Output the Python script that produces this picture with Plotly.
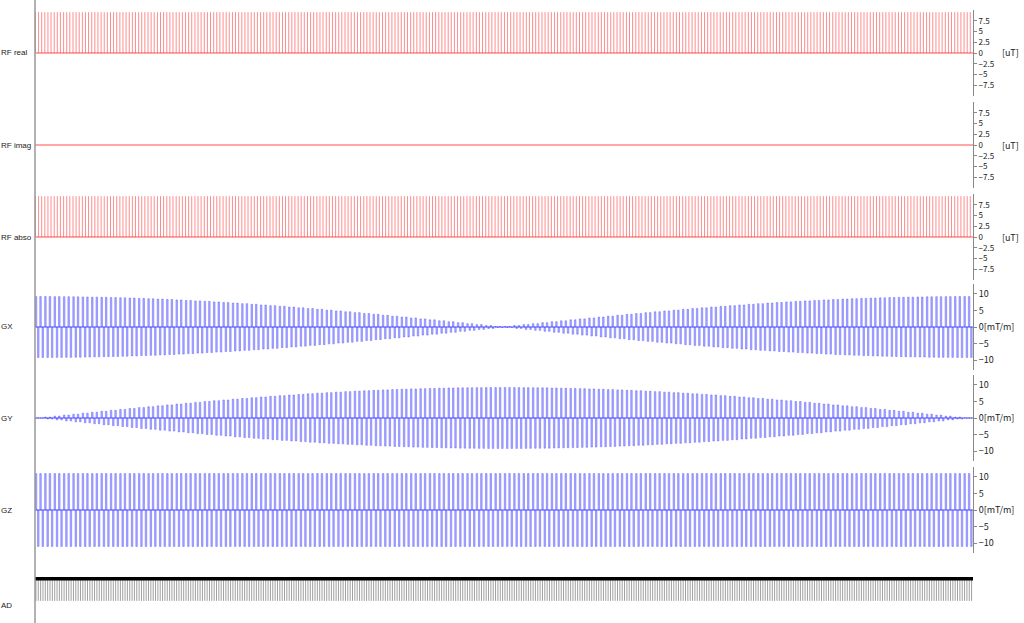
import plotly.graph_objects as go

# per-TR values (100 TRs)
rf_amp = 9.5
gz_amp = 11.0
gx_amp = [9.20, 9.20, 9.18, 9.16, 9.13, 9.08, 9.03, 8.97, 8.91, 8.83,
          8.74, 8.65, 8.54, 8.43, 8.31, 8.18, 8.04, 7.89, 7.74, 7.58,
          7.41, 7.23, 7.05, 6.86, 6.66, 6.45, 6.24, 6.02, 5.80, 5.57,
          5.34, 5.10, 4.85, 4.60, 4.34, 4.08, 3.82, 3.55, 3.28, 3.01,
          2.73, 2.45, 2.17, 1.88, 1.60, 1.31, 1.02, 0.73, 0.44, 0.15,
          0.15, 0.44, 0.73, 1.02, 1.31, 1.60, 1.88, 2.17, 2.45, 2.73,
          3.01, 3.28, 3.55, 3.82, 4.08, 4.34, 4.60, 4.85, 5.10, 5.34,
          5.57, 5.80, 6.02, 6.24, 6.45, 6.66, 6.86, 7.05, 7.23, 7.41,
          7.58, 7.74, 7.89, 8.04, 8.18, 8.31, 8.43, 8.54, 8.65, 8.74,
          8.83, 8.91, 8.97, 9.03, 9.08, 9.13, 9.16, 9.18, 9.20, 9.20]
gy_amp = [0.00, 0.29, 0.58, 0.88, 1.17, 1.46, 1.74, 2.03, 2.31, 2.59,
          2.87, 3.14, 3.41, 3.68, 3.95, 4.21, 4.47, 4.72, 4.97, 5.22,
          5.45, 5.69, 5.91, 6.13, 6.35, 6.56, 6.76, 6.95, 7.14, 7.32,
          7.50, 7.66, 7.82, 7.97, 8.11, 8.24, 8.37, 8.48, 8.59, 8.69,
          8.79, 8.87, 8.94, 9.01, 9.06, 9.11, 9.14, 9.17, 9.19, 9.20,
          9.20, 9.19, 9.17, 9.14, 9.11, 9.06, 9.01, 8.94, 8.87, 8.79,
          8.69, 8.59, 8.48, 8.37, 8.24, 8.11, 7.97, 7.82, 7.66, 7.50,
          7.32, 7.14, 6.95, 6.76, 6.56, 6.35, 6.13, 5.91, 5.69, 5.45,
          5.22, 4.97, 4.72, 4.47, 4.21, 3.95, 3.68, 3.41, 3.14, 2.87,
          2.59, 2.31, 2.03, 1.74, 1.46, 1.17, 0.88, 0.58, 0.29, 0.00]
n_tr = len(gx_amp)

row_labels = ["RF real", "RF imag", "RF abso", "GX", "GY", "GZ", "AD"]
row_px = [(10, 96), (102, 188), (194, 280), (284, 370), (375, 461), (467, 553), (572, 612)]
H = 623

fig = go.Figure()
layout = dict(width=1024, height=H, autosize=False, margin=dict(l=35, r=51, t=0, b=0),
              plot_bgcolor="white", paper_bgcolor="white", showlegend=False,
              font=dict(family="Noto Sans CJK JP, Noto Sans", size=9, color="#222"))

def spikes(height):
    xs, ys = [], []
    for i in range(n_tr):
        for dx in (0.05, 0.38, 0.71):
            xs += [i + dx, i + dx, None]
            ys += [0, height, None]
    return xs, ys

def lobes(amps):
    xs, ys = [], []
    for i, a in enumerate(amps):
        for x0, s in [(i + 0.03, 1), (i + 0.27, -1), (i + 0.51, 1), (i + 0.75, -1)]:
            x1 = x0 + 0.16
            xs += [x0, x0, x1, x1, x0, None]
            ys += [0, s * a, s * a, 0, 0, None]
    return xs, ys

annotations = []
for r, (label, (top, bot)) in enumerate(zip(row_labels, row_px)):
    k = "" if r == 0 else str(r + 1)
    xa, ya = "x" + k, "y" + k
    dom = [1 - bot / H, 1 - top / H]
    layout["xaxis" + k] = dict(domain=[0, 1], range=[0, n_tr], visible=False, anchor=ya)
    if r < 3:
        layout["yaxis" + k] = dict(domain=dom, range=[-10, 10], side="right", anchor=xa,
                                   tickvals=[-7.5, -5, -2.5, 0, 2.5, 5, 7.5],
                                   ticktext=["\u22127.5", "\u22125", "\u22122.5", "0", "2.5", "5", "7.5"],
                                   tickfont=dict(size=8),
                                   showline=True, linecolor="#888", ticks="outside", ticklen=3,
                                   tickcolor="#888", showgrid=False, zeroline=False)
        annotations.append(dict(text="[uT]", xref="paper", x=1, xanchor="left", xshift=27,
                                yref=ya, y=0, showarrow=False))
        if r != 1:
            xs, ys = spikes(rf_amp)
            fig.add_trace(go.Scatter(x=xs, y=ys, mode="lines", xaxis=xa, yaxis=ya,
                                     line=dict(color="rgba(255,0,0,0.45)", width=1)))
        fig.add_trace(go.Scatter(x=[0, n_tr], y=[0, 0], mode="lines", xaxis=xa, yaxis=ya,
                                 line=dict(color="rgba(255,0,0,0.7)", width=1)))
    elif r < 6:
        amps = [gx_amp, gy_amp, [gz_amp] * n_tr][r - 3]
        layout["yaxis" + k] = dict(domain=dom, range=[-13, 13], side="right", anchor=xa,
                                   tickvals=[-10, -5, 0, 5, 10],
                                   ticktext=["\u221210", "\u22125", "0[mT/m]", "5", "10"],
                                   showline=True, linecolor="#888", ticks="outside", ticklen=3,
                                   tickcolor="#888", showgrid=False, zeroline=False)
        xs, ys = lobes(amps)
        fig.add_trace(go.Scatter(x=xs, y=ys, mode="lines", fill="toself", xaxis=xa, yaxis=ya,
                                 fillcolor="rgba(100,100,255,0.5)",
                                 line=dict(color="rgba(80,80,255,0.75)", width=0.6)))
        fig.add_trace(go.Scatter(x=[0, n_tr], y=[0, 0], mode="lines", xaxis=xa, yaxis=ya,
                                 line=dict(color="rgba(60,60,255,0.8)", width=1)))
    else:
        layout["yaxis" + k] = dict(domain=dom, range=[-0.5, 1.3], visible=False, anchor=xa)
        xs, ys = [], []
        for i in range(n_tr):
            for dx in (0.1, 0.35, 0.6, 0.85):
                xs += [i + dx, i + dx, None]
                ys += [0, 1, None]
        fig.add_trace(go.Scatter(x=xs, y=ys, mode="lines", xaxis=xa, yaxis=ya,
                                 line=dict(color="#888", width=0.8)))
        fig.add_trace(go.Scatter(x=[0, n_tr], y=[1, 1], mode="lines", xaxis=xa, yaxis=ya,
                                 line=dict(color="black", width=3.5)))
    annotations.append(dict(text=label, xref="paper", x=0, xanchor="left", xshift=-36,
                            font=dict(family="Liberation Sans", size=8),
                            yref=ya, y=0 if r < 6 else -0.2, showarrow=False))

layout["annotations"] = annotations
layout["shapes"] = [dict(type="line", xref="paper", yref="paper", x0=0, x1=0, y0=0, y1=1,
                         line=dict(color="#999", width=1.5))]
fig.update_layout(**layout)
fig.write_html("out.html", config={"displayModeBar": False},
               post_script="document.body.style.margin='0';")
